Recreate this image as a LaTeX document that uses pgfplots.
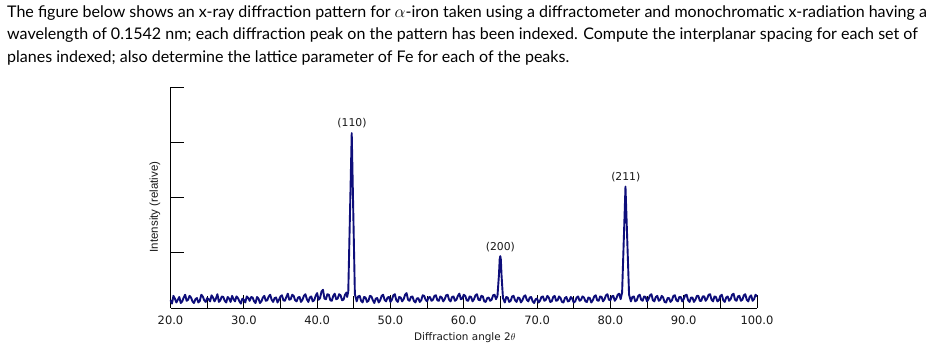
\documentclass[border=0pt]{standalone}
\usepackage{fontspec}
\setmainfont{Lato}
\newfontfamily\dejavu{DejaVu Sans}
\newfontfamily\libsans{Liberation Sans}
\usepackage{pgfplots}
\pgfplotsset{compat=1.18}
\definecolor{navy}{RGB}{14,14,122}
\begin{document}
\begin{tikzpicture}[x=1pt,y=1pt]
\useasboundingbox[fill=white] (0,0) rectangle (926,362);
\begin{scope}[every node/.style={anchor=base west, inner sep=0pt, font=\fontsize{16.03}{18}\selectfont, text=black}]
\node at (7,344.7) {The figure below shows an x-ray diffraction pattern for $\alpha$-iron taken using a diffractometer and monochromatic x-radiation having a};
\node at (7,322) {wavelength of 0.1542 nm; each diffraction peak on the pattern has been indexed. Compute the interplanar spacing for each set of};
\node at (7,299.3) {planes indexed; also determine the lattice parameter of Fe for each of the peaks.};
\end{scope}
\begin{axis}[
  at={(170.5pt,54pt)}, anchor=south west,
  scale only axis, width=586.5pt, height=220.7pt,
  xmin=20, xmax=100, ymin=0, ymax=4,
  axis x line=bottom, axis y line=left,
  axis line style={-, line width=1pt, black},
  xtick={20,30,...,100},
  xticklabels={20.0,30.0,40.0,50.0,60.0,70.0,80.0,90.0,100.0},
  minor xtick={25,35,...,95},
  ytick={1,2,3,4}, yticklabels={},
  tick align=inside,
  major tick length=13pt, minor tick length=12pt,
  tick style={black, line width=0.8pt},
  xticklabel style={font=\dejavu\fontsize{11.5}{12}\selectfont, text=black!90, yshift=-4pt},
  xlabel={Diffraction angle 2$\theta$},
  xlabel style={font=\dejavu\fontsize{10.4}{12}\selectfont, text=black!90, at={(axis description cs:0.502,0)}, anchor=center, yshift=-30pt},
  ylabel={Intensity (relative)},
  ylabel style={font=\libsans\fontsize{11.5}{12}\selectfont, text=black!90, at={([xshift=-15.5pt]axis description cs:0,0.458)}, anchor=center},
  clip=false,
]
\addplot[navy, line width=1.9pt, line join=round] coordinates {
(20.0,.14)(20.2,.08)(20.4,.22)(20.6,.17)(20.8,.10)(21.0,.15)(21.2,.20)(21.4,.09)(21.6,.12)(21.8,.19)
(22.0,.24)(22.2,.13)(22.4,.15)(22.6,.22)(22.8,.19)(23.0,.12)(23.2,.09)(23.4,.16)(23.6,.18)(23.8,.10)
(24.0,.13)(24.2,.24)(24.4,.21)(24.6,.14)(24.8,.11)(25.0,.18)(25.2,.16)(25.4,.12)(25.6,.23)(25.8,.19)
(26.0,.12)(26.2,.17)(26.4,.25)(26.6,.11)(26.8,.14)(27.0,.21)(27.2,.20)(27.4,.13)(27.6,.10)(27.8,.20)
(28.0,.17)(28.2,.11)(28.4,.22)(28.6,.16)(28.8,.12)(29.0,.21)(29.2,.18)(29.4,.12)(29.6,.08)(29.8,.17)
(30.0,.15)(30.2,.10)(30.4,.21)(30.6,.18)(30.8,.13)(31.0,.20)(31.2,.19)(31.4,.12)(31.6,.09)(31.8,.20)
(32.0,.17)(32.2,.09)(32.4,.12)(32.6,.19)(32.8,.22)(33.0,.13)(33.2,.14)(33.4,.21)(33.6,.24)(33.8,.15)
(34.0,.11)(34.2,.18)(34.4,.19)(34.6,.10)(34.8,.15)(35.0,.21)(35.2,.23)(35.4,.14)(35.6,.13)(35.8,.20)
(36.0,.26)(36.2,.15)(36.4,.16)(36.6,.24)(36.8,.22)(37.0,.14)(37.2,.12)(37.4,.19)(37.6,.20)(37.8,.11)
(38.0,.15)(38.2,.22)(38.4,.25)(38.6,.16)(38.8,.11)(39.0,.19)(39.2,.21)(39.4,.12)(39.6,.14)(39.8,.22)
(40.0,.27)(40.2,.15)(40.4,.18)(40.6,.30)(40.8,.33)(41.0,.17)(41.2,.16)(41.4,.25)(41.6,.24)(41.8,.14)
(42.0,.13)(42.2,.22)(42.4,.26)(42.6,.16)(42.8,.17)(43.0,.25)(43.2,.23)(43.4,.14)(43.6,.15)(43.8,.24)
(44.0,.28)(44.1,.20)(44.25,.30)(44.72,3.17)(45.15,.25)
(45.4,.12)(45.6,.21)(45.8,.22)(46.0,.13)(46.2,.10)(46.4,.20)(46.6,.19)(46.8,.11)(47.0,.13)(47.2,.22)
(47.4,.21)(47.6,.14)(47.8,.09)(48.0,.17)(48.2,.18)(48.4,.10)(48.6,.14)(48.8,.22)(49.0,.24)(49.2,.15)
(49.4,.12)(49.6,.19)(49.8,.20)(50.0,.11)(50.2,.15)(50.4,.23)(50.6,.25)(50.8,.14)(51.0,.11)(51.2,.20)
(51.4,.19)(51.6,.12)(51.8,.16)(52.0,.24)(52.2,.27)(52.4,.15)(52.6,.13)(52.8,.20)(53.0,.21)(53.2,.13)
(53.4,.10)(53.6,.17)(53.8,.18)(54.0,.11)(54.2,.14)(54.4,.23)(54.6,.22)(54.8,.15)(55.0,.12)(55.2,.19)
(55.4,.20)(55.6,.13)(55.8,.15)(56.0,.22)(56.2,.23)(56.4,.14)(56.6,.13)(56.8,.21)(57.0,.19)(57.2,.12)
(57.4,.16)(57.6,.23)(57.8,.24)(58.0,.15)(58.2,.12)(58.4,.20)(58.6,.21)(58.8,.13)(59.0,.15)(59.2,.22)
(59.4,.26)(59.6,.16)(59.8,.17)(60.0,.24)(60.2,.22)(60.4,.14)(60.6,.13)(60.8,.21)(61.0,.20)(61.2,.12)
(61.4,.16)(61.6,.23)(61.8,.25)(62.0,.15)(62.2,.14)(62.4,.22)(62.6,.21)(62.8,.12)(63.0,.11)(63.2,.18)
(63.4,.19)(63.6,.13)(63.8,.15)(64.0,.23)(64.2,.24)(64.4,.16)
(64.6,.22)(64.8,.60)(64.9,.88)(64.98,.94)(65.06,.88)(65.15,.60)(65.35,.18)
(65.6,.10)(65.8,.20)(66.0,.19)(66.2,.11)(66.4,.13)(66.6,.21)(66.8,.22)(67.0,.14)(67.2,.11)(67.4,.19)
(67.6,.18)(67.8,.10)(68.0,.14)(68.2,.21)(68.4,.23)(68.6,.15)(68.8,.12)(69.0,.19)(69.2,.20)(69.4,.12)
(69.6,.09)(69.8,.16)(70.0,.17)(70.2,.10)(70.4,.13)(70.6,.20)(70.8,.21)(71.0,.13)(71.2,.15)(71.4,.22)
(71.6,.19)(71.8,.11)(72.0,.12)(72.2,.20)(72.4,.22)(72.6,.13)(72.8,.14)(73.0,.21)(73.2,.18)(73.4,.11)
(73.6,.10)(73.8,.18)(74.0,.20)(74.2,.12)(74.4,.13)(74.6,.20)(74.8,.17)(75.0,.10)(75.2,.12)(75.4,.19)
(75.6,.21)(75.8,.13)(76.0,.15)(76.2,.21)(76.4,.19)(76.6,.12)(76.8,.11)(77.0,.19)(77.2,.18)(77.4,.10)
(77.6,.14)(77.8,.21)(78.0,.23)(78.2,.14)(78.4,.13)(78.6,.21)(78.8,.20)(79.0,.12)(79.2,.16)(79.4,.23)
(79.6,.25)(79.8,.15)(80.0,.14)(80.2,.21)(80.4,.22)(80.6,.13)(80.8,.17)(81.0,.24)(81.2,.26)(81.4,.16)
(81.6,.28)(82.06,2.20)(82.55,.24)
(82.8,.12)(83.0,.20)(83.2,.21)(83.4,.12)(83.6,.14)(83.8,.22)(84.0,.24)(84.2,.15)(84.4,.13)(84.6,.21)
(84.8,.20)(85.0,.12)(85.2,.16)(85.4,.23)(85.6,.25)(85.8,.14)(86.0,.12)(86.2,.20)(86.4,.22)(86.6,.13)
(86.8,.15)(87.0,.22)(87.2,.19)(87.4,.11)(87.6,.10)(87.8,.18)(88.0,.18)(88.2,.11)(88.4,.14)(88.6,.22)
(88.8,.23)(89.0,.14)(89.2,.12)(89.4,.20)(89.6,.20)(89.8,.12)(90.0,.16)(90.2,.23)(90.4,.24)(90.6,.14)
(90.8,.11)(91.0,.19)(91.2,.19)(91.4,.11)(91.6,.15)(91.8,.22)(92.0,.22)(92.2,.13)(92.4,.13)(92.6,.21)
(92.8,.21)(93.0,.13)(93.2,.17)(93.4,.24)(93.6,.25)(93.8,.15)(94.0,.12)(94.2,.21)(94.4,.20)(94.6,.12)
(94.8,.14)(95.0,.22)(95.2,.24)(95.4,.14)(95.6,.11)(95.8,.19)(96.0,.21)(96.2,.13)(96.4,.16)(96.6,.24)
(96.8,.26)(97.0,.15)(97.2,.13)(97.4,.21)(97.6,.22)(97.8,.13)(98.0,.15)(98.2,.23)(98.4,.25)(98.6,.15)
(98.8,.12)(99.0,.20)(99.2,.23)(99.4,.13)(99.6,.16)(99.8,.24)(100.0,.21)
};
\node[font=\dejavu\fontsize{10.8}{12}\selectfont, text=black!90] at (axis cs:44.75,3.35) {(110)};
\node[font=\dejavu\fontsize{10.8}{12}\selectfont, text=black!90] at (axis cs:65.0,1.105) {(200)};
\node[font=\dejavu\fontsize{10.8}{12}\selectfont, text=black!90] at (axis cs:82.1,2.37) {(211)};
\end{axis}
\end{tikzpicture}
\end{document}
